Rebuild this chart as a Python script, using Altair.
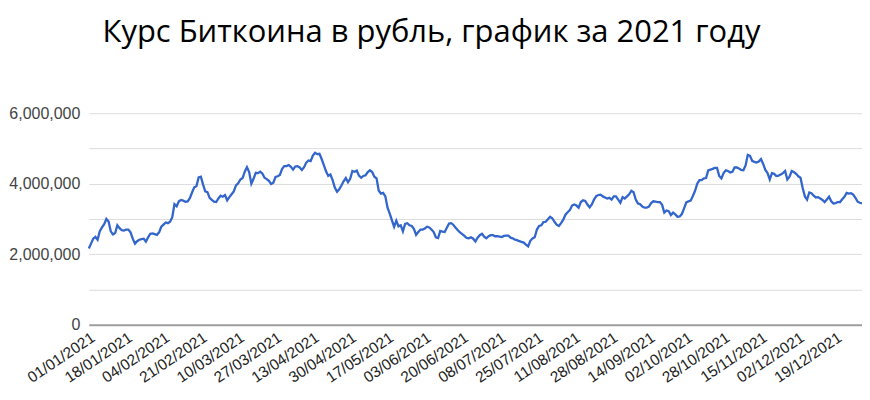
import altair as alt
import pandas as pd

TITLE = "Курс Биткоина в рубль, график за 2021 году"

TICK_LABELS = [
    "01/01/2021", "18/01/2021", "04/02/2021", "21/02/2021", "10/03/2021",
    "27/03/2021", "13/04/2021", "30/04/2021", "17/05/2021", "03/06/2021",
    "20/06/2021", "08/07/2021", "25/07/2021", "11/08/2021", "28/08/2021",
    "14/09/2021", "02/10/2021", "28/10/2021", "15/11/2021", "02/12/2021",
    "19/12/2021",
]
TICK_STEP = 17

# Rate in thousands of rubles, one value per trading day shown (353 points)
RATE_K = [
    2160, 2300, 2440, 2490, 2410, 2650, 2760, 2850, 3000, 2930,
    2650, 2560, 2600, 2820, 2740, 2680, 2670, 2700, 2700, 2620,
    2440, 2300, 2370, 2410, 2430, 2440, 2360, 2480, 2580, 2590,
    2570, 2550, 2620, 2780, 2840, 2900, 2880, 2920, 3050, 3420,
    3360, 3500, 3540, 3520, 3490, 3500, 3590, 3750, 3900, 3930,
    4180, 4200, 3980, 3780, 3760, 3600, 3540, 3490, 3480, 3580,
    3660, 3630, 3680, 3530, 3620, 3700, 3780, 3950, 4010, 4120,
    4160, 4340, 4470, 4330, 4000, 4140, 4310, 4300, 4340, 4290,
    4170, 4130, 4080, 3990, 4030, 4190, 4210, 4250, 4420, 4500,
    4500, 4530, 4480, 4400, 4490, 4500, 4460, 4390, 4470, 4600,
    4660, 4640, 4800, 4880, 4840, 4850, 4700, 4530, 4350, 4220,
    4260, 4100, 3890, 3770, 3840, 3950, 4070, 4160, 4040, 4140,
    4360, 4340, 4370, 4230, 4170, 4220, 4240, 4330, 4380, 4330,
    4200, 4150, 3800, 3720, 3740, 3640, 3320, 3150, 2960, 2780,
    2950, 2790, 2820, 2650, 2860, 2880, 2820, 2800, 2720, 2550,
    2630, 2700, 2700, 2730, 2780, 2760, 2700, 2630, 2480, 2460,
    2660, 2640, 2630, 2750, 2870, 2880, 2830, 2750, 2680, 2620,
    2570, 2520, 2460, 2450, 2480, 2440, 2360, 2470, 2540, 2580,
    2500, 2450, 2510, 2540, 2540, 2510, 2510, 2500, 2490, 2520,
    2530, 2530, 2470, 2450, 2410, 2400, 2370, 2350, 2330, 2270,
    2220, 2380, 2450, 2480, 2700, 2800, 2820, 2910, 2920, 2990,
    3060, 3020, 2920, 2840, 2800, 2880, 2980, 3120, 3190, 3250,
    3380, 3410, 3380, 3320, 3480, 3530, 3510, 3410, 3330, 3410,
    3550, 3650, 3680, 3690, 3640, 3610, 3580, 3600, 3550, 3640,
    3640, 3550, 3460, 3620, 3580, 3640, 3700, 3800, 3760, 3550,
    3440, 3420, 3350, 3320, 3320, 3350, 3450, 3500, 3490, 3480,
    3480, 3400, 3180, 3240, 3220, 3110, 3180, 3130, 3060, 3070,
    3140, 3300, 3470, 3500, 3520, 3650, 3800, 4000, 4100, 4100,
    4150, 4160, 4380, 4400, 4420, 4450, 4450, 4220, 4150, 4300,
    4380, 4360, 4320, 4340, 4460, 4460, 4430, 4390, 4380, 4520,
    4820, 4790, 4650, 4620, 4600, 4630, 4700, 4560, 4390, 4300,
    4120, 4300, 4280, 4220, 4230, 4260, 4300, 4360, 4120, 4200,
    4360, 4330, 4280, 4210, 4170, 3880, 3640, 3550, 3750, 3730,
    3660, 3610, 3620, 3580, 3540, 3480, 3550, 3630, 3500, 3440,
    3450, 3480, 3480, 3560, 3630, 3740, 3720, 3730, 3690, 3600,
    3490, 3460, 3440,
]

df = pd.DataFrame({
    "i": list(range(len(RATE_K))),
    "rate": [v * 1000 for v in RATE_K],
})

label_array = "[" + ",".join("'" + s + "'" for s in TICK_LABELS) + "]"
tick_values = [k * TICK_STEP for k in range(len(TICK_LABELS))]
n_last = len(RATE_K) - 1

chart = alt.Chart(df).mark_line(color="#3366cc", strokeWidth=2.3).encode(
    x=alt.X(
        "i:Q",
        scale=alt.Scale(domain=[0, n_last], nice=False, zero=False),
        axis=alt.Axis(
            title=None,
            values=tick_values,
            labelExpr=label_array + "[round(datum.value / %d)]" % TICK_STEP,
            labelAngle=-34,
            labelAlign="right",
            labelBaseline="top",
            labelPadding=5,
            labelFont="Liberation Sans",
            labelFontSize=15.5,
            labelColor="#222222",
            labelOverlap=False,
            grid=False,
            ticks=False,
            domainColor="#9e9e9e",
            domainWidth=2,
        ),
    ),
    y=alt.Y(
        "rate:Q",
        scale=alt.Scale(domain=[0, 6000000], nice=False),
        axis=alt.Axis(
            title=None,
            values=[0, 1000000, 2000000, 3000000, 4000000, 5000000, 6000000],
            labelExpr="datum.value % 2000000 == 0 ? format(datum.value, ',') : ''",
            labelFont="Liberation Sans",
            labelFontSize=16,
            labelColor="#444444",
            labelPadding=9,
            domain=False,
            ticks=False,
            gridColor="#dcdcdc",
            gridWidth=1,
        ),
    ),
).properties(
    width=775,
    height=212,
    title=alt.TitleParams(
        TITLE,
        font="Open Sans",
        fontSize=31,
        fontWeight="normal",
        color="#000000",
        anchor="middle",
        frame="group",
        dx=-44,
        offset=56,
    ),
    padding={"left": 81, "top": 105, "right": 0, "bottom": 70},
    autosize=alt.AutoSizeParams(type="none"),
).configure_view(stroke=None)

chart.save("out.html", embed_options={"renderer": "svg", "actions": False})
